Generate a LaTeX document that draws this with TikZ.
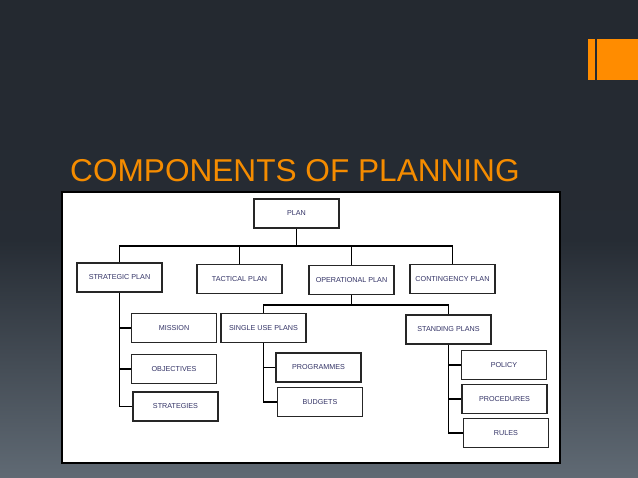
\documentclass[tikz,border=0pt]{standalone}
\usepackage{fontspec}
\setmainfont{Liberation Sans}
\begin{document}
\begin{tikzpicture}[x=1pt,y=-1pt,
  bx/.style={draw=black!85,line width=1.3pt,fill=white,minimum width=85pt,minimum height=29pt,inner sep=0pt,
    font=\fontsize{7.2}{8}\selectfont,text=blue!25!black!80},
  ln/.style={draw=black,line width=1.3pt}]
\shade[top color={rgb,255:red,36;green,41;blue,48},bottom color={rgb,255:red,38;green,44;blue,52},middle color={rgb,255:red,37;green,42;blue,50}] (0,0) rectangle (638,240);
\shade[top color={rgb,255:red,38;green,44;blue,52},bottom color={rgb,255:red,96;green,106;blue,116}] (0,240) rectangle (638,478);
\useasboundingbox (0,0) rectangle (638,478);
\fill[orange!90!yellow] (588,39) rectangle (595,80);
\fill[orange!90!yellow] (597,39) rectangle (638,80);
\node[anchor=base west,inner sep=0pt,text={rgb,255:red,245;green,140;blue,0},font=\fontsize{31.6}{33}\selectfont] (title) at (70,182) {COMPONENTS OF PLANNING};
\draw[fill=white,draw=black,line width=1.5pt] (62,192) rectangle (560,463);
\node[bx] (plan) at (296.5,213.5) {PLAN};
\node[bx] (strat) at (119.5,277.5) {STRATEGIC PLAN};
\node[bx] (tact) at (239.5,279) {TACTICAL PLAN};
\node[bx] (oper) at (351.5,280) {OPERATIONAL PLAN};
\node[bx] (cont) at (452.5,279) {CONTINGENCY PLAN};
\node[bx] (miss) at (174,328) {MISSION};
\node[bx] (obj) at (174,369) {OBJECTIVES};
\node[bx] (strg) at (175.5,406.5) {STRATEGIES};
\node[bx] (single) at (263.5,328) {SINGLE USE PLANS};
\node[bx] (stand) at (448.5,329.5) {STANDING PLANS};
\node[bx] (prog) at (318.5,367.5) {PROGRAMMES};
\node[bx] (budg) at (320,402) {BUDGETS};
\node[bx] (pol) at (504,365) {POLICY};
\node[bx] (proc) at (504.5,399) {PROCEDURES};
\node[bx] (rules) at (506,433) {RULES};
\coordinate (bus) at (296.5,246);
\coordinate (obus) at (351.5,305);
\draw[ln] (plan.south) -- (bus);
\draw[ln] (strat.north) -- (strat.north|-bus) -- (cont.north|-bus) -- (cont.north);
\draw[ln] (tact.north) -- (tact.north|-bus);
\draw[ln] (oper.north) -- (oper.north|-bus);
\draw[ln] (oper.south) -- (obus);
\draw[ln] (single.north) -- (single.north|-obus) -- (stand.north|-obus) -- (stand.north);
\draw[ln] (strat.south) |- (strg.west);
\draw[ln] (strat.south|-miss.west) -- (miss.west);
\draw[ln] (strat.south|-obj.west) -- (obj.west);
\draw[ln] (single.south) |- (budg.west);
\draw[ln] (single.south|-prog.west) -- (prog.west);
\draw[ln] (stand.south) |- (rules.west);
\draw[ln] (stand.south|-pol.west) -- (pol.west);
\draw[ln] (stand.south|-proc.west) -- (proc.west);
\end{tikzpicture}
\end{document}
